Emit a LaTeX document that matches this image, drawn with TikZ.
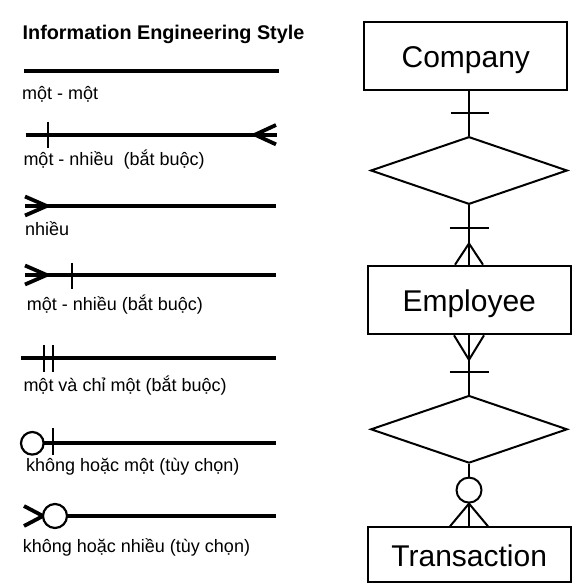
\documentclass[tikz,border=0pt]{standalone}
\usepackage{fontspec}
\setmainfont{Liberation Sans}
\usetikzlibrary{shapes.geometric,calc}
\begin{document}
\begin{tikzpicture}[x=1pt,y=-1pt,
  leg/.style={line width=3.8pt},
  legtick/.style={line width=2.2pt},
  legcirc/.style={line width=2.2pt,fill=white},
  lbl/.style={anchor=base west,inner sep=0,font=\fontsize{18}{21}\selectfont},
  ttl/.style={anchor=base west,inner sep=0,font=\bfseries\fontsize{19.8}{23}\selectfont},
  ent/.style={draw,line width=2pt,inner sep=0,minimum width=203pt,text height=23.5pt,text depth=0pt,font=\fontsize{30}{34}\selectfont},
  rel/.style={draw,diamond,line width=2pt,inner sep=0,minimum width=196.6pt,minimum height=67.6pt},
  conn/.style={line width=2pt}]
\useasboundingbox (0,0) rectangle (585,588);
% ---------- legend ----------
\node[ttl] (title) at (22.5,40) {Information Engineering Style};
% 1
\draw[leg] (24.3,71) -- (278.7,71);
\node[lbl] (l1) at (22,100) {một - một};
% 2
\draw[leg] (25.7,134.7) -- (276.7,134.7);
\draw[legtick] (48.3,121.7) -- (48.3,148.3);
\draw[leg,line join=miter] (276,125) -- (255,134.7) -- (276,144.4);
\node[lbl] (l2) at (23.3,165) {một - nhiều\ \ (bắt buộc)};
% 3
\draw[leg] (25,206) -- (276,206);
\draw[leg,line join=miter] (25,196.5) -- (46.7,206) -- (25,215.5);
\node[lbl] (l3) at (25,235) {nhiều};
% 4
\draw[leg] (25,275) -- (276,275);
\draw[leg,line join=miter] (25,265.5) -- (46.7,275) -- (25,284.5);
\draw[legtick] (71.7,262.7) -- (71.7,289);
\node[lbl] (l4) at (26.7,310) {một - nhiều (bắt buộc)};
% 5
\draw[leg] (20.7,358.3) -- (276,358.3);
\draw[legtick] (44,345) -- (44,371.7);
\draw[legtick] (52.7,345) -- (52.7,371.7);
\node[lbl] (l5) at (23.3,391.5) {một và chỉ một (bắt buộc)};
% 6
\draw[leg] (43.6,443.3) -- (276,443.3);
\draw[legcirc] (32.3,443.3) circle[radius=11.3pt];
\draw[legtick] (52.7,428.3) -- (52.7,455);
\node[lbl] (l6) at (26,471.7) {không hoặc một (tùy chọn)};
% 7
\draw[leg] (67,516) -- (276,516);
\draw[leg,line join=miter] (24,506) -- (43,516) -- (24,526);
\draw[legcirc] (55,516) circle[radius=12pt];
\node[lbl] (l7) at (22.7,552.7) {không hoặc nhiều (tùy chọn)};
% ---------- ER diagram ----------
\node[ent,minimum height=67.7pt] (company) at (465.8,56.2) {Company};
\node[rel] (d1) at (469,170.5) {};
\node[ent,minimum height=68.6pt] (employee) at (469.2,300) {Employee};
\node[rel] (d2) at (469,429.3) {};
\node[ent,minimum height=54.4pt] (transaction) at (469.2,554.5) {Transaction};
% company -- d1 (one)
\draw[conn] (d1.north |- company.south) -- (d1.north);
\coordinate (c1) at ($(d1.north)+(0,-23)$);
\draw[conn] ($(c1)+(-18,0)$) -- ($(c1)+(20,0)$);
% d1 -- employee (one and many)
\draw[conn] (d1.south) -- (d1.south |- employee.north);
\coordinate (c2) at ($(d1.south)+(0,23)$);
\draw[conn] ($(c2)+(-19.5,0)$) -- ($(c2)+(19.5,0)$);
\coordinate (a2) at ($(d1.south)+(0,38.2)$);
\draw[conn] ($(d1.south |- employee.north)+(-14,0)$) -- (a2) -- ($(d1.south |- employee.north)+(14,0)$);
% employee -- d2 (many and one)
\draw[conn] (d2.north |- employee.south) -- (d2.north);
\coordinate (a3) at ($(d2.north)+(0,-34.7)$);
\draw[conn] ($(d2.north |- employee.south)+(-15,0)$) -- (a3) -- ($(d2.north |- employee.south)+(15,0)$);
\coordinate (c3) at ($(d2.north)+(0,-22.4)$);
\draw[conn] ($(c3)+(-19.5,0)$) -- ($(c3)+(19.5,0)$);
% d2 -- transaction (zero or many)
\node[draw,circle,line width=2pt,inner sep=0,minimum size=25pt] (o1) at ($(d2.south)+(0,26)$) {};
\draw[conn] (d2.south) -- (o1.north);
\draw[conn] (o1.south) -- (o1.south |- transaction.north);
\draw[conn] ($(o1.south |- transaction.north)+(-19,0)$) -- (o1.south) -- ($(o1.south |- transaction.north)+(19,0)$);
\end{tikzpicture}
\end{document}
